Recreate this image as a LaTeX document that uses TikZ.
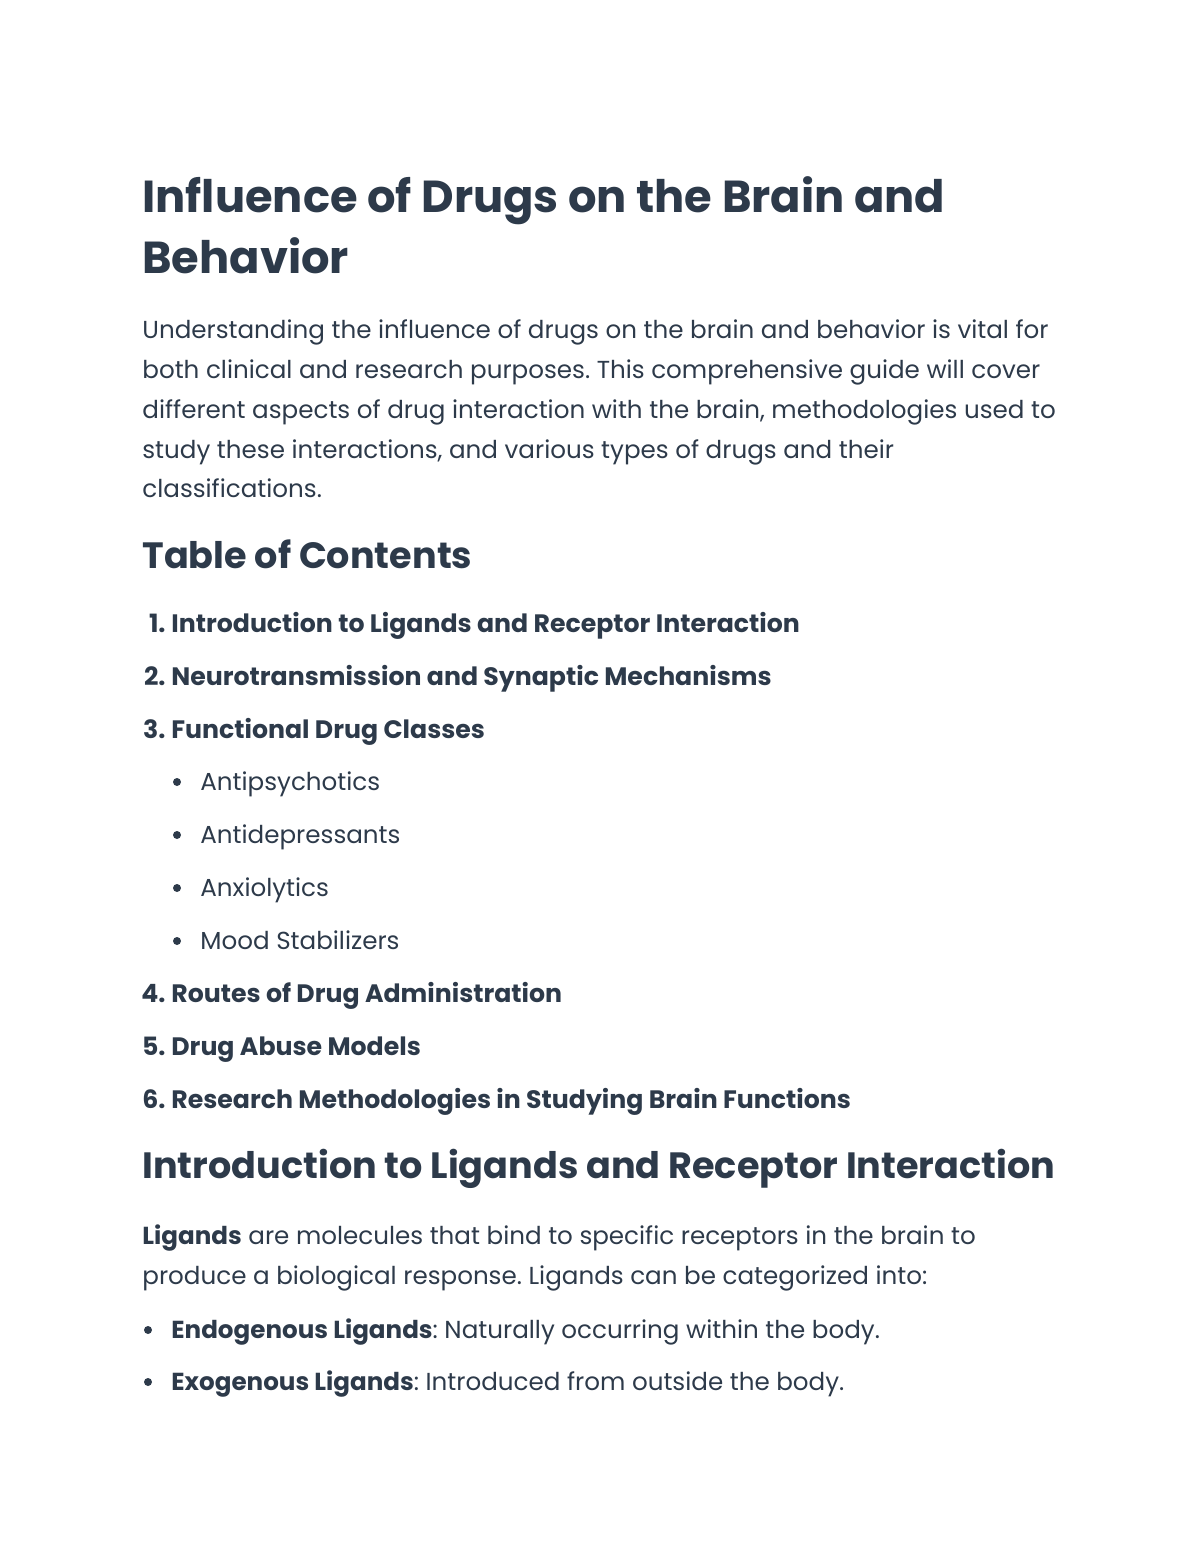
\documentclass[tikz,border=0pt]{standalone}
\usepackage{fontspec}
\setmainfont{Poppins}
\definecolor{ink}{HTML}{2D3A4A}
\frenchspacing
\begin{document}
\begin{tikzpicture}[x=0.5pt,y=-0.5pt,
  t/.style={anchor=base west,inner sep=0,text=ink,font=\fontsize{12.3}{14}\selectfont},
  tb/.style={t,font=\fontsize{12.6}{14}\selectfont\bfseries},
  h1/.style={anchor=base west,inner sep=0,text=ink,font=\fontsize{22.4}{28}\selectfont\bfseries},
  h2/.style={anchor=base west,inner sep=0,text=ink,font=\fontsize{18.3}{21}\selectfont\bfseries},
  num/.style={anchor=base east,inner sep=0,text=ink,font=\fontsize{12.6}{14}\selectfont\bfseries},
  bul/.style={circle,fill=ink,inner sep=0,minimum size=4pt}]
\useasboundingbox (0,0) rectangle (1200,1553);
\node[h1] (ti1) at (142,212) {Influence of Drugs on the Brain and};
\node[h1] (ti2) at (142,273) {Behavior};
\node[t] (p1) at (142,338) {Understanding the influence of drugs on the brain and behavior is vital for};
\node[t] (p2) at (142,378) {both clinical and research purposes. This comprehensive guide will cover};
\node[t] (p3) at (142,418) {different aspects of drug interaction with the brain, methodologies used to};
\node[t] (p4) at (142,458) {study these interactions, and various types of drugs and their};
\node[t] (p5) at (142,497) {classifications.};
\node[h2] (toc) at (142,568) {Table of Contents};
\node[num] (n1) at (166,632) {1.};
\node[tb] (i1) at (171,632) {Introduction to Ligands and Receptor Interaction};
\node[num] (n2) at (166,685) {2.};
\node[tb] (i2) at (171,685) {Neurotransmission and Synaptic Mechanisms};
\node[num] (n3) at (166,738) {3.};
\node[tb] (i3) at (171,738) {Functional Drug Classes};
\node[bul] (b1) at (177,782) {};
\node[t] (s1) at (200,790) {Antipsychotics};
\node[bul] (b2) at (177,835) {};
\node[t] (s2) at (200,843) {Antidepressants};
\node[bul] (b3) at (177,888) {};
\node[t] (s3) at (200,896) {Anxiolytics};
\node[bul] (b4) at (177,941) {};
\node[t] (s4) at (200,949) {Mood Stabilizers};
\node[num] (n4) at (166,1002) {4.};
\node[tb] (i4) at (171,1002) {Routes of Drug Administration};
\node[num] (n5) at (166,1055) {5.};
\node[tb] (i5) at (171,1055) {Drug Abuse Models};
\node[num] (n6) at (166,1108) {6.};
\node[tb] (i6) at (171,1108) {Research Methodologies in Studying Brain Functions};
\node[h2] (sec) at (142,1178) {Introduction to Ligands and Receptor Interaction};
\node[t] (q1) at (142,1244) {\textbf{Ligands} are molecules that bind to specific receptors in the brain to};
\node[t] (q2) at (142,1284) {produce a biological response. Ligands can be categorized into:};
\node[bul] (b5) at (148,1330) {};
\node[t] (e1) at (171,1338) {\textbf{Endogenous Ligands}: Naturally occurring within the body.};
\node[bul] (b6) at (148,1382) {};
\node[t] (e2) at (171,1390) {\textbf{Exogenous Ligands}: Introduced from outside the body.};
\end{tikzpicture}
\end{document}
